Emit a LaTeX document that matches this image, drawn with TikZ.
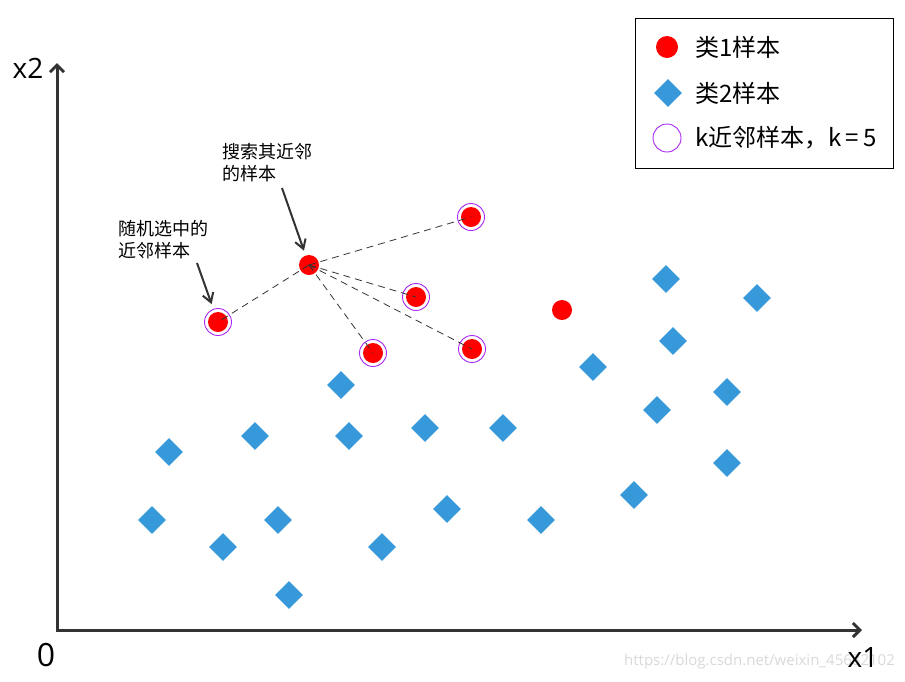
\documentclass[tikz,border=0pt]{standalone}
\usepackage{fontspec}
\setmainfont{Open Sans}
\newfontfamily\cjk{Noto Sans CJK SC}
\usetikzlibrary{shapes.geometric,arrows.meta}
\definecolor{dia}{RGB}{55,152,218}
\definecolor{ringc}{RGB}{168,40,245}
\definecolor{axc}{RGB}{51,51,51}
\tikzset{
  c1/.style={circle, fill=red, inner sep=0pt, minimum size=20pt},
  ring/.style={circle, draw=ringc, line width=0.9pt, fill=white, inner sep=0pt, minimum size=27pt},
  c2/.style={diamond, fill=dia, inner sep=0pt, minimum width=28pt, minimum height=28pt},
  dashline/.style={draw=axc, line width=0.8pt, dash pattern=on 7pt off 5pt},
  axis/.style={draw=axc, line width=3pt, {Straight Barb[length=7pt,width=14pt]}-{Straight Barb[length=7pt,width=14pt]}},
  callout/.style={draw=axc, line width=2pt, -{Straight Barb[length=9pt,width=11pt]}},
  anno/.style={font=\cjk\fontsize{18}{22}\selectfont, align=left, inner sep=0pt},
  legtext/.style={font=\cjk\fontsize{24}{28}\selectfont, anchor=west, inner sep=0pt},
  axlabel/.style={font=\fontsize{28}{32}\selectfont, inner sep=0pt}
}
\begin{document}
\begin{tikzpicture}[x=1pt,y=-1pt]
\useasboundingbox (0,0) rectangle (905,681);
\fill[white] (0,0) rectangle (905,681);
% axes
\coordinate (ytip) at (57,63);
\coordinate (O) at (57,630);
\coordinate (xtip) at (862,630);
\draw[axis] (ytip) -- (O) -- (xtip);
\node[axlabel] (lx2) at (28,68) {x2};
\node[axlabel, font=\fontsize{32}{36}\selectfont] (l0) at (46,655) {0};
% watermark (under the x1 label)
\node[font=\fontsize{15}{18}\selectfont, text=black!15, anchor=east, inner sep=0pt] (wm) at (895,662) {https://blog.csdn.net/weixin\_45682102};
\node[axlabel] (lx1) at (863,657) {x1};
% class 2 diamonds
\foreach \n/\x/\y in {d1/341/385, d2/255/436, d3/349/436, d4/425/428, d5/503/428, d6/169/452,
  d7/152/520, d8/278/520, d9/223/547, d10/382/547, d11/447/509, d12/289/595,
  d13/666/279, d14/757/298, d15/673/341, d16/593/367, d17/727/392, d18/657/410,
  d19/727/463, d20/634/495, d21/541/520}
  \node[c2] (\n) at (\x,\y) {};
% neighbour rings
\node[ring] (r1) at (218,322) {};
\node[ring] (r2) at (471,217) {};
\node[ring] (r3) at (416,297) {};
\node[ring] (r4) at (373,353) {};
\node[ring] (r5) at (472,349) {};
% class 1 samples
\node[c1] (c) at (309,265) {};
\node[c1] (n1) at (218,322) {};
\node[c1] (n2) at (471,217) {};
\node[c1] (n3) at (416,297) {};
\node[c1] (n4) at (373,353) {};
\node[c1] (n5) at (472,349) {};
\node[c1] (s1) at (562,310) {};
% dashed neighbour links
\foreach \t in {n1,n2,n3,n4,n5}
  \draw[dashline] (c.center) -- (\t.center);
% annotations
\node[anno, anchor=north west] (t1) at (222,143) {搜索其近邻\\的样本};
\node[anno, anchor=north west] (t2) at (118,220) {随机选中的\\近邻样本};
\coordinate (a1s) at (282,188);
\coordinate (a2s) at (197,263);
\draw[callout, shorten >=5pt] (a1s) -- (c);
\draw[callout, shorten >=5pt] (a2s) -- (r1);
% legend
\node[draw=black, line width=1pt, fill=white, minimum width=258pt, minimum height=150pt, inner sep=0pt] (leg) at (764,93) {};
\node[c1, minimum size=22pt] (lg1) at (667,47) {};
\node[c2] (lg2) at (668,93) {};
\node[circle, draw=ringc, line width=0.9pt, inner sep=0pt, minimum size=28pt] (lg3) at (667,138) {};
\node[legtext] (lt1) at (695,47) {类1样本};
\node[legtext] (lt2) at (695,93) {类2样本};
\node[legtext] (lt3) at (695,138) {k近邻样本，k\,=\,5};
\end{tikzpicture}
\end{document}
